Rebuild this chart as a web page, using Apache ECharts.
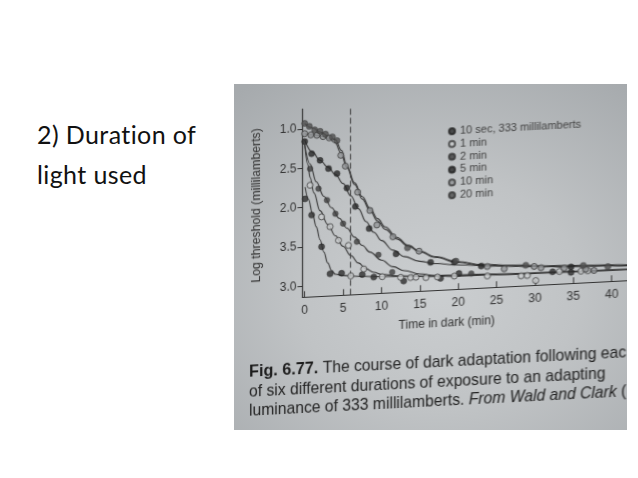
<!DOCTYPE html>
<html>
<head>
<meta charset="utf-8">
<script src="https://cdn.jsdelivr.net/npm/echarts@6/dist/echarts.min.js"></script>
<style>
html,body{margin:0;padding:0;background:#fff;width:638px;height:478px;overflow:hidden;}
#slideText{position:absolute;left:37px;top:114px;font-family:Lato,"Open Sans",sans-serif;font-size:25px;letter-spacing:0.4px;line-height:40px;color:#111;}
#photo{position:absolute;left:234px;top:84px;width:393px;height:346px;overflow:hidden;
  background:radial-gradient(ellipse 80% 75% at 52% 60%, #cbced0 0%, #c0c3c5 45%, #a6aaad 100%);}
#chart{position:absolute;left:0;top:0;width:393px;height:346px;transform-origin:68px 0;transform:skewY(-2.95deg);}
</style>
</head>
<body>
<div id="slideText">2) Duration of<br>light used</div>
<div id="photo"><div id="chart"></div></div>
<script>
// ---- data ----
const seriesNames = ['10 sec, 333 millilamberts', '1 min', '2 min', '5 min', '10 min', '20 min'];
const xTickValues = [0, 5, 10, 15, 20, 25, 30, 35, 40];
const yTickValues = [-3, -2.5, -2, -1.5, -1];
const yTickLabels = ['3.0', '3.5', '2.0', '2.5', '1.0'];
const dashedLineTime = [5.9];

const pts10s = [[0.05,-1.89],[0.9,-2.10],[2.2,-2.51],[3.3,-2.86],[4.8,-2.86],[7.5,-2.89],[9.0,-2.93],[12.9,-3.0],[17.7,-2.99],[20.1,-2.94],[32.3,-2.98],[34.7,-3.0]];
const pts1m = [[0.7,-1.72],[2.2,-2.13],[3.3,-2.26],[4.4,-2.44],[5.7,-2.51],[6.0,-2.90],[7.7,-2.82],[10.1,-2.93],[12.5,-2.95],[13.8,-2.96],[14.5,-2.96],[15.8,-2.97],[17.3,-2.97],[19.5,-2.97],[23.8,-2.99],[28.2,-3.01],[29.0,-3.01],[30.1,-3.08],[33.2,-2.98],[36.0,-2.99],[36.9,-2.99]];
const pts2m = [[0.7,-1.51],[1.8,-1.77],[2.9,-1.92],[4.0,-2.10],[5.0,-2.23],[6.8,-2.47],[9.6,-2.65],[11.4,-2.88],[21.7,-2.95]];
const pts5m = [[0,-1.16],[0.9,-1.32],[2.0,-1.41],[3.1,-1.52],[4.2,-1.59],[5.5,-1.78],[6.6,-2.02],[8.4,-2.31],[11.9,-2.65],[16.4,-2.78],[19.5,-2.79],[23.0,-2.86],[34.7,-2.93]];
const pts10m = [[0,-1.06],[0.8,-1.08],[1.6,-1.09],[2.4,-1.11],[3.2,-1.13],[4.7,-1.36],[5.3,-1.50],[6.9,-1.84],[8.5,-2.08],[9.4,-2.27],[11.5,-2.43],[14.9,-2.63],[23.8,-2.87],[26.0,-2.91],[29.9,-2.90],[30.8,-2.92],[33.8,-2.94],[36.6,-2.97],[37.7,-2.99]];
const pts20m = [[0,-0.93],[0.6,-0.97],[1.3,-1.02],[2.0,-1.04],[2.7,-1.08],[3.6,-1.12],[4.2,-1.17],[13.4,-2.58],[19.7,-2.78],[28.8,-2.88],[36.3,-2.92],[39.5,-2.95]];

const fit10s = [[0.05,-1.74],[0.5,-1.9],[1,-2.08],[1.5,-2.25],[2,-2.42],[2.5,-2.58],[3,-2.72],[3.5,-2.82],[4,-2.87],[5,-2.89],[7,-2.91],[10,-2.93],[15,-2.95],[20,-2.97],[30,-2.99],[42,-3.0]];
const fit1m = [[0,-1.2],[0.4,-1.45],[0.7,-1.62],[1.2,-1.82],[2,-2.05],[3,-2.23],[4,-2.38],[5,-2.52],[6,-2.64],[7,-2.74],[8,-2.82],[9,-2.87],[10,-2.9],[12,-2.93],[15,-2.95],[20,-2.97],[30,-2.99],[42,-3.0]];
const fit2m = [[0,-1.2],[0.7,-1.45],[1.5,-1.68],[2.5,-1.87],[3.5,-2.02],[4.5,-2.16],[5.5,-2.29],[6.5,-2.41],[7.5,-2.52],[8.5,-2.61],[10,-2.72],[11.5,-2.81],[13,-2.87],[15,-2.92],[17,-2.95],[20,-2.96],[30,-2.98],[42,-3.0]];
const fit5m = [[0,-1.14],[1,-1.3],[2,-1.41],[3,-1.5],[4,-1.6],[5,-1.72],[6,-1.88],[7,-2.05],[8,-2.22],[9,-2.36],[10,-2.47],[11.5,-2.6],[13,-2.69],[15,-2.76],[17,-2.8],[20,-2.83],[25,-2.87],[30,-2.9],[35,-2.93],[42,-2.95]];
const fit10m = [[0,-1.06],[1,-1.08],[2,-1.1],[3,-1.13],[4,-1.2],[4.7,-1.33],[5.5,-1.52],[6.5,-1.74],[7.5,-1.93],[8.5,-2.08],[9.5,-2.22],[10.5,-2.33],[12,-2.46],[13.5,-2.56],[15,-2.64],[17,-2.72],[20,-2.8],[23,-2.85],[27,-2.88],[32,-2.91],[37,-2.93],[42,-2.95]];
const fit20m = [[0,-0.93],[1,-0.99],[2,-1.05],[3,-1.1],[4,-1.16],[4.8,-1.3],[5.5,-1.5],[6.5,-1.72],[7.5,-1.9],[8.5,-2.05],[9.5,-2.19],[10.5,-2.3],[12,-2.44],[13.5,-2.55],[15,-2.63],[17,-2.71],[20,-2.79],[23,-2.84],[27,-2.87],[32,-2.9],[37,-2.92],[42,-2.94]];

const captionLines = [
  '{b|Fig. 6.77.} The course of dark adaptation following each',
  'of six different durations of exposure to an adapting',
  'luminance of 333 millilamberts. {i|From Wald and Clark} (1937)'
];

// ---- styles ----
const ink = '#333333';
const pointSets = [pts10s, pts1m, pts2m, pts5m, pts10m, pts20m];
const fitSets = [fit10s, fit1m, fit2m, fit5m, fit10m, fit20m];
const symbolStyles = [
  {size:6, itemStyle:{color:'#2e2e2e', borderColor:'#222', borderWidth:0.6}},
  {size:6, itemStyle:{color:'#c9cccd', borderColor:'#3a3a3a', borderWidth:1}},
  {size:5.5, itemStyle:{color:'#404040', borderColor:'#333', borderWidth:0.6}},
  {size:6, itemStyle:{color:'#272727', borderColor:'#222', borderWidth:0.6}},
  {size:6, itemStyle:{color:'#939698', borderColor:'#3a3a3a', borderWidth:1}},
  {size:6, itemStyle:{color:'#505050', borderColor:'#333', borderWidth:0.6}}
];

const series = [];
fitSets.forEach((d, i) => {
  series.push({
    name: seriesNames[i] + ' fit', type: 'line', data: d, smooth: 0.4, smoothMonotone: 'x',
    showSymbol: false, silent: true, z: 2,
    lineStyle: {color: '#363636', width: 1.1}
  });
});
pointSets.forEach((d, i) => {
  series.push({
    name: seriesNames[i], type: 'scatter', data: d, z: 5,
    symbol: 'circle', symbolSize: symbolStyles[i].size,
    itemStyle: symbolStyles[i].itemStyle
  });
});
series[0].markLine = {
  silent: true, symbol: ['none', 'none'], label: {show: false},
  lineStyle: {color: '#3a3a3a', width: 1, type: [6, 3]},
  data: dashedLineTime.map(t => ({xAxis: t}))
};

const chart = echarts.init(document.getElementById('chart'), null, {renderer: 'canvas'});
chart.setOption({
  animation: false,
  backgroundColor: 'transparent',
  textStyle: {fontFamily: '"Liberation Sans", Arial, sans-serif'},
  grid: {left: 68.4, right: 0, top: 25, bottom: 132.7, containLabel: false},
  legend: {
    data: seriesNames, orient: 'vertical', left: 214, top: 49,
    itemWidth: 6, itemHeight: 6, itemGap: 0.8, padding: 0,
    textStyle: {color: '#404040', fontSize: 11, lineHeight: 12, fontFamily: '"Liberation Sans", Arial, sans-serif'},
    selectedMode: false
  },
  xAxis: {
    type: 'value', min: -0.3, max: 42,
    name: 'Time in dark (min)', nameLocation: 'middle', nameGap: 27,
    nameTextStyle: {color: '#333', fontSize: 12, padding: [0, 36, 0, 0]},
    axisLine: {show: true, onZero: false, lineStyle: {color: ink, width: 1.2}},
    axisTick: {show: true, inside: true, length: 6, customValues: xTickValues, lineStyle: {color: ink}},
    axisLabel: {customValues: xTickValues, color: '#333', fontSize: 12, margin: 7},
    splitLine: {show: false}
  },
  yAxis: {
    type: 'value', min: -3.14, max: -0.745,
    name: 'Log threshold (millilamberts)', nameLocation: 'middle', nameGap: 40,
    nameTextStyle: {color: '#333', fontSize: 12.3},
    axisLine: {show: true, onZero: false, lineStyle: {color: ink, width: 1.2}},
    axisTick: {show: true, inside: false, length: 5, customValues: yTickValues, lineStyle: {color: ink}},
    axisLabel: {
      customValues: yTickValues, color: '#333', fontSize: 12, margin: 6,
      formatter: v => { const k = yTickValues.findIndex(x => Math.abs(x - v) < 1e-6); return k >= 0 ? yTickLabels[k] : ''; }
    },
    splitLine: {show: false}
  },
  graphic: [{
    type: 'text', left: 15, top: 276,
    style: {
      text: captionLines.join('\n'),
      fill: '#222', font: '15.7px "Liberation Sans", Arial, sans-serif', lineHeight: 19.5,
      rich: {
        b: {fontWeight: 'bold', fontSize: 16.2, lineHeight: 19.5, fill: '#1b1b1b'},
        i: {fontStyle: 'italic', fontSize: 15.7, lineHeight: 19.5, fill: '#222'}
      }
    }
  }],
  series: series
});
</script>
</body>
</html>
